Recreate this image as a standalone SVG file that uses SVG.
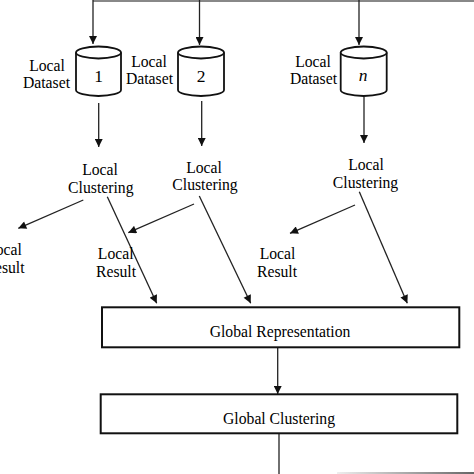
<svg xmlns="http://www.w3.org/2000/svg" width="474" height="474" viewBox="0 0 474 474">
<style>
text{font-family:"Liberation Serif","Times New Roman",serif;font-size:15.7px;fill:#000;text-anchor:middle}
.num{font-size:17.5px}
.c{fill:#fff;stroke:#111;stroke-width:1.8}
.b{fill:#fff;stroke:#111;stroke-width:2}
.l{stroke:#222;stroke-width:1.3;fill:none}
.a{marker-end:url(#ah)}
</style>
<defs>
<marker id="ah" viewBox="0 0 10 10" refX="10" refY="5" markerWidth="9" markerHeight="8" markerUnits="userSpaceOnUse" orient="auto">
<path d="M0,0 L10,5 L0,10 z" fill="#111"/>
</marker>
<linearGradient id="g" x1="0" x2="1" y1="0" y2="0">
<stop offset="0" stop-color="#eee"/>
<stop offset="1" stop-color="#666"/>
</linearGradient>
</defs>
<rect width="474" height="474" fill="#fff"/>
<g id="connectors">
<line x1="93" y1="1" x2="474" y2="1" style="stroke:#888;stroke-width:2"/>
<line class="l a" x1="93" y1="0" x2="93" y2="44"/>
<line class="l a" x1="199.5" y1="0" x2="199.5" y2="45"/>
<line class="l a" x1="359" y1="0" x2="359" y2="45"/>
<line class="l a" x1="98.7" y1="103" x2="98.7" y2="147"/>
<line class="l a" x1="201.7" y1="101" x2="201.7" y2="146"/>
<line class="l a" x1="364" y1="97" x2="364" y2="143"/>
<line class="l a" x1="83.3" y1="200" x2="18.3" y2="228.3"/>
<line class="l a" x1="107.3" y1="196.7" x2="156.7" y2="303.3"/>
<line class="l a" x1="194" y1="204" x2="128.3" y2="232.7"/>
<line class="l a" x1="199.3" y1="196" x2="250.7" y2="303.3"/>
<line class="l a" x1="355" y1="205" x2="290" y2="233.3"/>
<line class="l a" x1="359.3" y1="191.7" x2="407.3" y2="303.3"/>
<line class="l a" x1="277.7" y1="347" x2="277.7" y2="394"/>
<line class="l" x1="279" y1="433" x2="279" y2="474"/>
</g>
<g id="ds1">
<path class="c" d="M76,52.5 L76,90 A22.5,6 0 0 0 121,90 L121,52.5"/>
<ellipse class="c" cx="98.5" cy="52.5" rx="22.5" ry="6"/>
<text class="num" x="98.7" y="82">1</text>
<text x="47" y="71">Local</text>
<text x="46.5" y="88">Dataset</text>
</g>
<g id="ds2">
<path class="c" d="M178,52.5 L178,90 A23,6 0 0 0 224,90 L224,52.5"/>
<ellipse class="c" cx="201" cy="52.5" rx="23" ry="6"/>
<text class="num" x="201" y="82">2</text>
<text x="149" y="67">Local</text>
<text x="149.5" y="84">Dataset</text>
</g>
<g id="dsn">
<path class="c" d="M340.7,52.5 L340.7,90 A23,6 0 0 0 386.7,90 L386.7,52.5"/>
<ellipse class="c" cx="363.7" cy="52.5" rx="23" ry="6"/>
<text class="num" x="363" y="81" font-style="italic">n</text>
<text x="313" y="67">Local</text>
<text x="313.5" y="84">Dataset</text>
</g>
<g id="lc1"><text x="100" y="175">Local</text><text x="100.8" y="192.7">Clustering</text></g>
<g id="lc2"><text x="204" y="172.7">Local</text><text x="205" y="190">Clustering</text></g>
<g id="lcn"><text x="366" y="170">Local</text><text x="365.5" y="187.7">Clustering</text></g>
<g id="lr1"><text x="4" y="255">Local</text><text x="4.5" y="273">Result</text></g>
<g id="lr2"><text x="115.7" y="258.5">Local</text><text x="116" y="276.7">Result</text></g>
<g id="lrn"><text x="277.5" y="258.5">Local</text><text x="277" y="276.7">Result</text></g>
<g id="grep">
<rect class="b" x="102" y="307.3" width="357.3" height="40"/>
<text x="280" y="336.7">Global Representation</text>
</g>
<g id="gclu">
<rect class="b" x="100.7" y="394.3" width="356.6" height="39"/>
<text x="279" y="424">Global Clustering</text>
</g>
<rect x="337" y="472" width="137" height="2" fill="url(#g)"/>
</svg>
